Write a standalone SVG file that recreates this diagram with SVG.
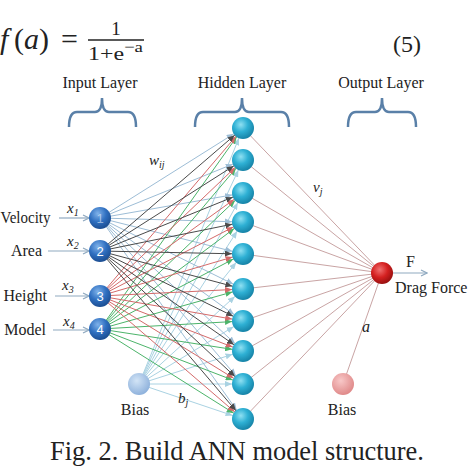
<svg xmlns="http://www.w3.org/2000/svg" width="474" height="467" viewBox="0 0 474 467">
<style>
text{font-family:"Liberation Serif","Times New Roman",serif;fill:#222}
.lbl{font-size:16px}
.it{font-style:italic}
.brace{fill:none;stroke:#5a80a8;stroke-width:2.5}
.c1 line{stroke:#9dbdd6;stroke-width:1;marker-end:url(#m1)}
.c2 line{stroke:#4a4a4a;stroke-width:1;marker-end:url(#m2)}
.c3 line{stroke:#d46a6a;stroke-width:1;marker-end:url(#m3)}
.c4 line{stroke:#4cb46a;stroke-width:1;marker-end:url(#m4)}
.cb line{stroke:#a9d2e2;stroke-width:1;marker-end:url(#m5)}
.co line{stroke:#c9a4a4;stroke-width:1}
.in line{stroke:#8fa9c0;stroke-width:1.2;marker-end:url(#mi)}
.num{font-family:"Liberation Sans",Arial,sans-serif;font-size:13px;fill:#fff;text-anchor:middle}
</style>
<defs>
<marker id="m1" viewBox="0 0 7 6" refX="18" refY="3" markerWidth="7" markerHeight="6" orient="auto" markerUnits="userSpaceOnUse"><path d="M0,0L7,3L0,6z" fill="#9dbdd6"/></marker>
<marker id="m2" viewBox="0 0 7 6" refX="18" refY="3" markerWidth="7" markerHeight="6" orient="auto" markerUnits="userSpaceOnUse"><path d="M0,0L7,3L0,6z" fill="#4a4a4a"/></marker>
<marker id="m3" viewBox="0 0 7 6" refX="18" refY="3" markerWidth="7" markerHeight="6" orient="auto" markerUnits="userSpaceOnUse"><path d="M0,0L7,3L0,6z" fill="#d46a6a"/></marker>
<marker id="m4" viewBox="0 0 7 6" refX="18" refY="3" markerWidth="7" markerHeight="6" orient="auto" markerUnits="userSpaceOnUse"><path d="M0,0L7,3L0,6z" fill="#4cb46a"/></marker>
<marker id="m5" viewBox="0 0 7 6" refX="18" refY="3" markerWidth="7" markerHeight="6" orient="auto" markerUnits="userSpaceOnUse"><path d="M0,0L7,3L0,6z" fill="#a9d2e2"/></marker>
<marker id="mi" viewBox="0 0 8 8" refX="7" refY="4" markerWidth="8" markerHeight="8" orient="auto" markerUnits="userSpaceOnUse"><path d="M1,1L7,4L1,7" fill="none" stroke="#8fa9c0" stroke-width="1.2"/></marker>
<radialGradient id="gH" cx="0.4" cy="0.35" r="0.65"><stop offset="0" stop-color="#8fe0f2"/><stop offset="0.5" stop-color="#2eb0d4"/><stop offset="1" stop-color="#1784a8"/></radialGradient>
<radialGradient id="gI" cx="0.4" cy="0.3" r="0.7"><stop offset="0" stop-color="#7fb2ea"/><stop offset="0.55" stop-color="#2f6fc0"/><stop offset="1" stop-color="#1c4e92"/></radialGradient>
<radialGradient id="gO" cx="0.4" cy="0.35" r="0.65"><stop offset="0" stop-color="#f07070"/><stop offset="0.55" stop-color="#d42020"/><stop offset="1" stop-color="#9a1010"/></radialGradient>
<radialGradient id="gB1" cx="0.4" cy="0.35" r="0.65"><stop offset="0" stop-color="#d2e4f6"/><stop offset="1" stop-color="#8fb2dc"/></radialGradient>
<radialGradient id="gB2" cx="0.4" cy="0.35" r="0.65"><stop offset="0" stop-color="#f8c8c8"/><stop offset="1" stop-color="#e08a8a"/></radialGradient>
</defs>

<g id="equation">
<text x="0" y="49" font-size="30" class="it">f</text>
<text x="14" y="49" font-size="30">(<tspan class="it">a</tspan>)</text>
<text x="61" y="49" font-size="30">=</text>
<text x="116" y="35" font-size="19" text-anchor="middle">1</text>
<line x1="88" y1="40" x2="144" y2="40" stroke="#222" stroke-width="1.3"/>
<text x="88" y="60" font-size="19" textLength="55" lengthAdjust="spacingAndGlyphs">1+e<tspan dy="-8" font-size="15">−a</tspan></text>
<text x="393" y="52" font-size="24">(5)</text>
</g>

<g id="layer-labels">
<text class="lbl" x="100" y="88" text-anchor="middle">Input Layer</text>
<text class="lbl" x="242" y="88" text-anchor="middle">Hidden Layer</text>
<text class="lbl" x="381" y="88" text-anchor="middle">Output Layer</text>
<path class="brace" d="M69,127 Q69,112 77,112 L95,112 Q102,112 102,98 Q102,112 109,112 L128,112 Q136,112 136,127"/>
<path class="brace" d="M195,127 Q195,112 203,112 L235,112 Q242,112 242,98 Q242,112 249,112 L281,112 Q289,112 289,127"/>
<path class="brace" d="M348,127 Q348,112 356,112 L375,112 Q382,112 382,98 Q382,112 389,112 L408,112 Q416,112 416,127"/>
</g>

<g id="connectors">
<g class="in">
<line x1="59" y1="218" x2="89" y2="218"/>
<line x1="48" y1="251" x2="89" y2="251"/>
<line x1="55" y1="296" x2="89" y2="296"/>
<line x1="53" y1="330" x2="89" y2="330"/>
<line x1="393" y1="273" x2="427" y2="273"/>
</g>
<g class="co">
<line x1="243" y1="128" x2="382" y2="273"/>
<line x1="243" y1="160" x2="382" y2="273"/>
<line x1="243" y1="193" x2="382" y2="273"/>
<line x1="243" y1="222" x2="382" y2="273"/>
<line x1="243" y1="254" x2="382" y2="273"/>
<line x1="243" y1="289" x2="382" y2="273"/>
<line x1="243" y1="321" x2="382" y2="273"/>
<line x1="243" y1="351" x2="382" y2="273"/>
<line x1="243" y1="384" x2="382" y2="273"/>
<line x1="243" y1="419" x2="382" y2="273"/>
<line x1="343" y1="384" x2="382" y2="273"/>
</g>
<g class="cb">
<line x1="139" y1="384" x2="243" y2="128"/>
<line x1="139" y1="384" x2="243" y2="160"/>
<line x1="139" y1="384" x2="243" y2="193"/>
<line x1="139" y1="384" x2="243" y2="222"/>
<line x1="139" y1="384" x2="243" y2="254"/>
<line x1="139" y1="384" x2="243" y2="289"/>
<line x1="139" y1="384" x2="243" y2="321"/>
<line x1="139" y1="384" x2="243" y2="351"/>
<line x1="139" y1="384" x2="243" y2="384"/>
<line x1="139" y1="384" x2="243" y2="419"/>
</g>
<g class="c1">
<line x1="100" y1="218" x2="243" y2="128"/>
<line x1="100" y1="218" x2="243" y2="160"/>
<line x1="100" y1="218" x2="243" y2="193"/>
<line x1="100" y1="218" x2="243" y2="222"/>
<line x1="100" y1="218" x2="243" y2="254"/>
<line x1="100" y1="218" x2="243" y2="289"/>
<line x1="100" y1="218" x2="243" y2="321"/>
<line x1="100" y1="218" x2="243" y2="351"/>
<line x1="100" y1="218" x2="243" y2="384"/>
<line x1="100" y1="218" x2="243" y2="419"/>
</g>
<g class="c4">
<line x1="100" y1="329" x2="243" y2="128"/>
<line x1="100" y1="329" x2="243" y2="160"/>
<line x1="100" y1="329" x2="243" y2="193"/>
<line x1="100" y1="329" x2="243" y2="222"/>
<line x1="100" y1="329" x2="243" y2="254"/>
<line x1="100" y1="329" x2="243" y2="289"/>
<line x1="100" y1="329" x2="243" y2="321"/>
<line x1="100" y1="329" x2="243" y2="351"/>
<line x1="100" y1="329" x2="243" y2="384"/>
<line x1="100" y1="329" x2="243" y2="419"/>
</g>
<g class="c3">
<line x1="100" y1="296" x2="243" y2="128"/>
<line x1="100" y1="296" x2="243" y2="160"/>
<line x1="100" y1="296" x2="243" y2="193"/>
<line x1="100" y1="296" x2="243" y2="222"/>
<line x1="100" y1="296" x2="243" y2="254"/>
<line x1="100" y1="296" x2="243" y2="289"/>
<line x1="100" y1="296" x2="243" y2="321"/>
<line x1="100" y1="296" x2="243" y2="351"/>
<line x1="100" y1="296" x2="243" y2="384"/>
<line x1="100" y1="296" x2="243" y2="419"/>
</g>
<g class="c2">
<line x1="100" y1="251" x2="243" y2="128"/>
<line x1="100" y1="251" x2="243" y2="160"/>
<line x1="100" y1="251" x2="243" y2="193"/>
<line x1="100" y1="251" x2="243" y2="222"/>
<line x1="100" y1="251" x2="243" y2="254"/>
<line x1="100" y1="251" x2="243" y2="289"/>
<line x1="100" y1="251" x2="243" y2="321"/>
<line x1="100" y1="251" x2="243" y2="351"/>
<line x1="100" y1="251" x2="243" y2="384"/>
<line x1="100" y1="251" x2="243" y2="419"/>
</g>
</g>

<g id="input-1"><circle cx="100" cy="218" r="11" fill="url(#gI)"/><text class="num" x="100" y="223" fill-opacity="0.5">1</text><text class="lbl" x="0.5" y="223" textLength="50" lengthAdjust="spacingAndGlyphs">Velocity</text><text class="it" x="67" y="213" font-size="15">x<tspan font-size="10" dy="3">1</tspan></text></g>
<g id="input-2"><circle cx="100" cy="251" r="11" fill="url(#gI)"/><text class="num" x="100" y="256">2</text><text class="lbl" x="42" y="256" text-anchor="end">Area</text><text class="it" x="67" y="246" font-size="15">x<tspan font-size="10" dy="3">2</tspan></text></g>
<g id="input-3"><circle cx="100" cy="296" r="11" fill="url(#gI)"/><text class="num" x="100" y="301">3</text><text class="lbl" x="47" y="301" text-anchor="end">Height</text><text class="it" x="62" y="290" font-size="15">x<tspan font-size="10" dy="3">3</tspan></text></g>
<g id="input-4"><circle cx="100" cy="329" r="11" fill="url(#gI)"/><text class="num" x="100" y="334">4</text><text class="lbl" x="46" y="335" text-anchor="end">Model</text><text class="it" x="63" y="326" font-size="15">x<tspan font-size="10" dy="3">4</tspan></text></g>
<g id="bias-in"><circle cx="139" cy="384" r="11" fill="url(#gB1)"/><text class="lbl" x="135" y="415" text-anchor="middle">Bias</text></g>
<g id="bias-out"><circle cx="343" cy="384" r="11" fill="url(#gB2)"/><text class="lbl" x="342" y="415" text-anchor="middle">Bias</text></g>

<g id="hidden-1"><circle cx="243" cy="128" r="11" fill="url(#gH)"/></g>
<g id="hidden-2"><circle cx="243" cy="160" r="11" fill="url(#gH)"/></g>
<g id="hidden-3"><circle cx="243" cy="193" r="11" fill="url(#gH)"/></g>
<g id="hidden-4"><circle cx="243" cy="222" r="11" fill="url(#gH)"/></g>
<g id="hidden-5"><circle cx="243" cy="254" r="11" fill="url(#gH)"/></g>
<g id="hidden-6"><circle cx="243" cy="289" r="11" fill="url(#gH)"/></g>
<g id="hidden-7"><circle cx="243" cy="321" r="11" fill="url(#gH)"/></g>
<g id="hidden-8"><circle cx="243" cy="351" r="11" fill="url(#gH)"/></g>
<g id="hidden-9"><circle cx="243" cy="384" r="11" fill="url(#gH)"/></g>
<g id="hidden-10"><circle cx="243" cy="419" r="11" fill="url(#gH)"/></g>

<g id="output"><circle cx="382" cy="273" r="11" fill="url(#gO)"/><text class="lbl" x="406" y="267">F</text><text class="lbl" x="395" y="293">Drag Force</text></g>

<g id="weight-labels">
<text class="it" x="149" y="165" font-size="15">w<tspan font-size="10" dy="3">ij</tspan></text>
<text class="it" x="313" y="192" font-size="15">v<tspan font-size="10" dy="3">j</tspan></text>
<text class="it" x="178" y="403" font-size="15">b<tspan font-size="10" dy="3">j</tspan></text>
<text class="it" x="362" y="332" font-size="16">a</text>
</g>

<text x="237" y="460" font-size="26.4" text-anchor="middle">Fig. 2. Build ANN model structure.</text>
</svg>
